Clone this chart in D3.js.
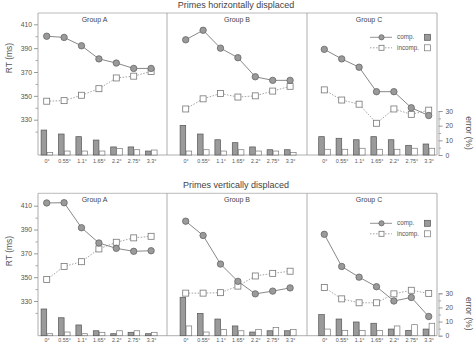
<!DOCTYPE html>
<html>
<head>
<meta charset="utf-8">
<script src="https://cdn.jsdelivr.net/npm/d3@7"></script>
<style>
body { margin: 0; background: #fff; }
svg { font-family: "Liberation Sans", Arial, sans-serif; }
</style>
</head>
<body>
<script>
var angles = ["0°", "0.55°", "1.1°", "1.65°", "2.2°", "2.75°", "3.3°"];
var groups = ["Group A", "Group B", "Group C"];
var rtTicks = [330, 350, 370, 390, 410];
var errTicks = [0, 10, 20, 30];

// primes horizontally displaced
var hCompRT = [[400, 399, 392, 381, 377.5, 373, 373], [397, 405, 390, 382, 366, 363, 363], [389, 381, 374, 353.5, 353.5, 340, 333.5]];
var hIncRT = [[345.5, 346, 350.5, 356, 365, 366.5, 370.5], [339, 347.5, 352, 349, 350, 354, 358], [355, 346.5, 343, 327, 339, 334.5, 338]];
var hCompErr = [[17, 14.3, 12.5, 10.2, 5.5, 5.5, 2.7], [20.2, 14.3, 10.4, 8.4, 5.5, 3.6, 3.6], [12.5, 11.4, 10.4, 12.5, 10.4, 6.6, 7.5]];
var hIncErr = [[1.8, 2.7, 2.7, 2.7, 4.5, 3.6, 3.4], [2.7, 3.6, 2.7, 3.6, 2.7, 2.7, 1.8], [3.9, 3.9, 4.6, 3.9, 3.9, 4.6, 4.6]];

// primes vertically displaced
var vCompRT = [[412.3, 412.5, 391.5, 378.7, 374.2, 371.7, 372.2], [397, 385, 361, 346.5, 336, 338.3, 341], [386, 359, 350, 342, 330, 333, 317]];
var vIncRT = [[348, 359, 363, 373.7, 379.3, 383, 384.3], [336.6, 336.6, 337, 342.5, 351, 353.2, 355], [341.4, 331.8, 328.5, 328.5, 336, 339, 336.4]];
var vCompErr = [[18.9, 12.7, 7.6, 3.5, 1.4, 2.4, 1.4], [27.2, 15.8, 11.8, 6.9, 2.6, 3.5, 3.5], [14.9, 11.8, 9.7, 8.8, 4.7, 3.8, 4.7]];
var vIncErr = [[1.4, 2.6, 1.4, 2.4, 3.5, 3.5, 2.4], [6.9, 2.6, 4.5, 3.5, 4.5, 5.7, 4.5], [4.7, 3.8, 3.8, 3.8, 6.9, 7.8, 8.8]];

var width = 474, height = 345;
var frameX = [38, 167, 307, 437];
var firstX = [46.7, 185.7, 324.3];
var groupLabelX = [94.5, 237, 369];
var step = 17.4;
var barW = 5.6;

var svg = d3.select("body").append("svg").attr("width", width).attr("height", height);

var rows = [
    {title: "Primes horizontally displaced", titleY: 8, top: 13, bottom: 155, y410: 24.3, y330: 119.7, e30: 111, rtLabelY: 58, legendY: 37.3, pad: 4.5,
     comp: hCompRT, inc: hIncRT, compErr: hCompErr, incErr: hIncErr},
    {title: "Primes vertically displaced", titleY: 187.5, top: 193.3, bottom: 335.7, y410: 205.7, y330: 301, e30: 293.3, rtLabelY: 251, legendY: 223.3, pad: 2.5,
     comp: vCompRT, inc: vIncRT, compErr: vCompErr, incErr: vIncErr}
];

rows.forEach(function(r) {
    var g = svg.append("g");
    var y = d3.scaleLinear().domain([330, 410]).range([r.y330, r.y410]);
    var e = d3.scaleLinear().domain([0, 30]).range([r.bottom, r.e30]);

    g.append("text").attr("x", 236).attr("y", r.titleY).attr("text-anchor", "middle")
        .attr("font-size", 9).attr("font-weight", 400).attr("fill", "#444").text(r.title);

    // frame
    g.append("line").attr("x1", frameX[0]).attr("x2", frameX[3]).attr("y1", r.top).attr("y2", r.top)
        .attr("stroke", "#aaa").attr("stroke-width", 0.8);
    g.append("line").attr("x1", frameX[0]).attr("x2", frameX[3]).attr("y1", r.bottom).attr("y2", r.bottom)
        .attr("stroke", "#999").attr("stroke-width", 0.8);
    frameX.forEach(function(fx) {
        g.append("line").attr("x1", fx).attr("x2", fx).attr("y1", r.top).attr("y2", r.bottom)
            .attr("stroke", "#999").attr("stroke-width", 0.8);
    });

    // RT axis
    var yAxis = d3.axisLeft(y).tickValues(rtTicks).tickSize(4).tickPadding(2);
    var ya = g.append("g").attr("transform", "translate(" + frameX[0] + ",0)").call(yAxis);
    ya.select(".domain").remove();
    ya.selectAll("line").attr("stroke", "#999");
    ya.selectAll("text").attr("font-size", 6.8).attr("fill", "#555").attr("font-family", "Liberation Sans, Arial");
    var yMinor = d3.axisLeft(y).tickValues([320, 340, 360, 380, 400]).tickSize(2.5).tickFormat("");
    var ym = g.append("g").attr("transform", "translate(" + frameX[0] + ",0)").call(yMinor);
    ym.select(".domain").remove();
    ym.selectAll("line").attr("stroke", "#aaa");

    g.append("text").attr("transform", "translate(12," + r.rtLabelY + ") rotate(-90)")
        .attr("text-anchor", "middle").attr("font-size", 8.5).attr("fill", "#555").text("RT (ms)");

    // error axis
    var eAxis = d3.axisRight(e).tickValues(errTicks).tickSize(4).tickPadding(3);
    var ea = g.append("g").attr("transform", "translate(" + (frameX[3] + 1.5) + ",0)").call(eAxis);
    ea.select(".domain").attr("stroke", "#999").attr("stroke-width", 0.8);
    ea.selectAll("line").attr("stroke", "#999");
    ea.selectAll("text").attr("font-size", 6.8).attr("fill", "#555").attr("font-family", "Liberation Sans, Arial");
    var eMinor = d3.axisRight(e).tickValues([5, 15, 25]).tickSize(2.5).tickFormat("");
    var em = g.append("g").attr("transform", "translate(" + (frameX[3] + 1.5) + ",0)").call(eMinor);
    em.select(".domain").remove();
    em.selectAll("line").attr("stroke", "#aaa");

    g.append("text").attr("transform", "translate(466," + (r.bottom - 22) + ") rotate(90)")
        .attr("text-anchor", "middle").attr("font-size", 8.5).attr("fill", "#555").text("error (%)");

    groups.forEach(function(name, gi) {
        var x = d3.scalePoint().domain(angles).range([firstX[gi], firstX[gi] + step * 6]);
        var gg = g.append("g");

        gg.append("text").attr("x", groupLabelX[gi])
            .attr("y", r.top + 9).attr("text-anchor", "middle").attr("font-size", 7).attr("fill", "#444").text(name);

        // x axis labels
        var xAxis = d3.axisBottom(x).tickSize(0).tickPadding(r.pad);
        var xa = gg.append("g").attr("transform", "translate(0," + r.bottom + ")").call(xAxis);
        xa.select(".domain").remove();
        xa.selectAll("text").attr("font-size", 5.4).attr("fill", "#555").attr("font-family", "Liberation Sans, Arial");

        // error bars
        gg.selectAll(".cbar").data(r.compErr[gi]).enter().append("rect")
            .attr("x", function(d, i) { return x(angles[i]) - barW; })
            .attr("y", function(d) { return e(d); })
            .attr("width", barW).attr("height", function(d) { return r.bottom - e(d); })
            .attr("fill", "#9a9a9a").attr("stroke", "#555").attr("stroke-width", 0.7);
        gg.selectAll(".ibar").data(r.incErr[gi]).enter().append("rect")
            .attr("x", function(d, i) { return x(angles[i]) + 0.4; })
            .attr("y", function(d) { return e(d); })
            .attr("width", barW).attr("height", function(d) { return r.bottom - e(d); })
            .attr("fill", "#fff").attr("stroke", "#777").attr("stroke-width", 0.7);

        // incompatible line + squares
        var line = d3.line().x(function(d, i) { return x(angles[i]); }).y(function(d) { return y(d); });
        gg.append("path").attr("d", line(r.inc[gi])).attr("fill", "none")
            .attr("stroke", "#999").attr("stroke-width", 0.9).attr("stroke-dasharray", "1.5,1.5");
        gg.selectAll(".sq").data(r.inc[gi]).enter().append("rect")
            .attr("x", function(d, i) { return x(angles[i]) - 3; })
            .attr("y", function(d) { return y(d) - 3; })
            .attr("width", 6).attr("height", 6)
            .attr("fill", "#fff").attr("stroke", "#777").attr("stroke-width", 0.8);

        // compatible line + circles
        gg.append("path").attr("d", line(r.comp[gi])).attr("fill", "none")
            .attr("stroke", "#888").attr("stroke-width", 1);
        gg.selectAll(".ci").data(r.comp[gi]).enter().append("circle")
            .attr("cx", function(d, i) { return x(angles[i]); })
            .attr("cy", function(d) { return y(d); })
            .attr("r", 3.2)
            .attr("fill", "#9a9a9a").attr("stroke", "#666").attr("stroke-width", 0.8);
    });

    // legend in group C
    var lg = g.append("g");
    var rowsL = [{label: "comp.", dy: 0}, {label: "incomp.", dy: 10.5}];
    rowsL.forEach(function(l, li) {
        var ly = r.legendY + l.dy;
        lg.append("line").attr("x1", 370).attr("x2", 392).attr("y1", ly).attr("y2", ly)
            .attr("stroke", li === 0 ? "#888" : "#999").attr("stroke-width", 0.9)
            .attr("stroke-dasharray", li === 0 ? null : "1.5,1.5");
        if (li === 0) {
            lg.append("circle").attr("cx", 381.5).attr("cy", ly).attr("r", 2.6)
                .attr("fill", "#9a9a9a").attr("stroke", "#666").attr("stroke-width", 0.8);
        } else {
            lg.append("rect").attr("x", 379).attr("y", ly - 2.5).attr("width", 5).attr("height", 5)
                .attr("fill", "#fff").attr("stroke", "#777").attr("stroke-width", 0.8);
        }
        lg.append("text").attr("x", 397).attr("y", ly + 2).attr("font-size", 6.3).attr("fill", "#555").text(l.label);
        lg.append("rect").attr("x", 424.5).attr("y", ly - 3).attr("width", 6).attr("height", 6)
            .attr("fill", li === 0 ? "#9a9a9a" : "#fff").attr("stroke", li === 0 ? "#555" : "#777").attr("stroke-width", 0.7);
    });
});
</script>
</body>
</html>
